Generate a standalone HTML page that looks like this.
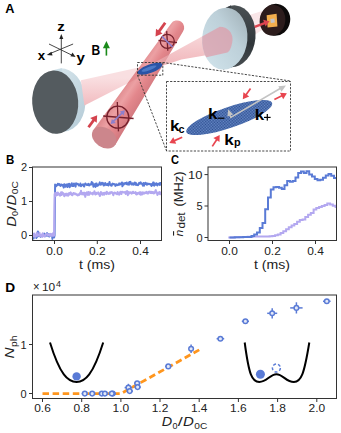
<!DOCTYPE html>
<html><head><meta charset="utf-8"><style>
html,body{margin:0;padding:0;background:#fff;width:341px;height:433px;overflow:hidden}
svg{display:block}
text{font-family:"Liberation Sans", sans-serif}
</style></head><body>
<svg width="341" height="433" viewBox="0 0 341 433">
<defs>
 <linearGradient id="tubeG" gradientUnits="userSpaceOnUse" x1="0" y1="-12" x2="0" y2="12">
  <stop offset="0" stop-color="#e08c90"/><stop offset="0.3" stop-color="#eca0a3"/><stop offset="0.6" stop-color="#e3878c"/><stop offset="1" stop-color="#d47a80"/>
 </linearGradient>
 <linearGradient id="beamL" gradientUnits="userSpaceOnUse" x1="0" y1="78" x2="0" y2="105">
  <stop offset="0" stop-color="#f9dfe1"/><stop offset="1" stop-color="#f2bcc0"/>
 </linearGradient>
 <linearGradient id="beamR" gradientUnits="userSpaceOnUse" x1="0" y1="28" x2="0" y2="60">
  <stop offset="0" stop-color="#f9dfe1"/><stop offset="1" stop-color="#f2bcc0"/>
 </linearGradient>
 <linearGradient id="mirL" x1="0" y1="0" x2="1" y2="1">
  <stop offset="0" stop-color="#e0ecf1"/><stop offset="1" stop-color="#b3cad6"/>
 </linearGradient>
 <linearGradient id="mirR" x1="0.2" y1="0.9" x2="0.9" y2="0.1">
  <stop offset="0" stop-color="#cde0e8"/><stop offset="0.6" stop-color="#bdd0d9"/><stop offset="1" stop-color="#a5b5bc"/>
 </linearGradient>
 <linearGradient id="rimR" x1="0" y1="0" x2="0" y2="1">
  <stop offset="0" stop-color="#4a5154"/><stop offset="0.6" stop-color="#30363a"/><stop offset="1" stop-color="#484e52"/>
 </linearGradient>
 <pattern id="hatch" width="2" height="2" patternUnits="userSpaceOnUse">
  <rect width="2" height="2" fill="#6c8ecb"/><rect width="1" height="1" fill="#2b4c8e"/><rect x="1" y="1" width="1" height="1" fill="#2b4c8e"/>
 </pattern>
</defs><ellipse cx="62" cy="100" rx="23.5" ry="31.7" fill="url(#mirL)" transform="rotate(-4 62 100)"/><polygon points="55.2,70.5 62,68.3 62,131.7 55.2,133.9" fill="#c9dce5"/><ellipse cx="55.2" cy="102.2" rx="23" ry="31.7" fill="#545b5f" transform="rotate(-4 55.2 102.2)"/><polygon points="80.9,80.3 150,65 150,72 84.4,105.4" fill="url(#beamL)"/><polygon points="240,18 262,11 262,30 244,42" fill="#f9e6e8"/><ellipse cx="233.2" cy="36.2" rx="22.3" ry="30.9" fill="url(#rimR)" transform="rotate(5 233.2 36.2)"/><polygon points="226.5,7.7 231,5.2 234,66.8 223,69.6" fill="#3a4044"/><polygon points="150,65 219.8,26.7 227.4,51.6 206,55.2 181.4,59.6 150,70" fill="url(#beamR)"/><ellipse cx="224.8" cy="38.6" rx="22.6" ry="31" fill="url(#mirR)" transform="rotate(5 224.8 38.6)"/><clipPath id="mirClip"><ellipse cx="224.8" cy="38.6" rx="22.6" ry="31" transform="rotate(5 224.8 38.6)"/></clipPath><path clip-path="url(#mirClip)" d="M150,65 L219.8,26.7 C228,27 233,33 232.5,40 C232,47 229,52 227.4,52.4 L150,70.5 Z" fill="#e09aa6" opacity="0.7"/><ellipse cx="275.6" cy="19.8" rx="14.6" ry="16" fill="#0d0a0a" transform="rotate(8 275.6 19.8)"/><ellipse cx="272.5" cy="20.2" rx="12.8" ry="15.4" fill="#2c1c1c" transform="rotate(8 272.5 20.2)"/><polygon points="266.6,15.2 276.6,13.8 277.4,26.6 267.6,27.4" fill="#f2ae4d"/><polygon points="270.4,18.9 274.4,18.5 274.8,22.6 270.9,23" fill="#c6c4c6"/><line x1="254.7" y1="26.8" x2="265.3" y2="22.8" stroke="#dd4550" stroke-width="2.4"/><polygon points="269.5,21.2 265.6,26.5 263.1,19.8" fill="#dd4550"/><g transform="translate(104.2,137.6) rotate(-56.50)"><path d="M0,-13.2 L131.9,-7.2 A7.2,7.2 0 0 1 131.9,7.2 L0,13.2 Z" fill="url(#tubeG)"/><ellipse cx="0" cy="0" rx="9.8" ry="13.2" fill="#cc868c"/></g><clipPath id="tubeClip"><path transform="translate(104.2,137.6) rotate(-56.50)" d="M0,-13.2 L131.9,-7.2 A7.2,7.2 0 0 1 131.9,7.2 L0,13.2 Z"/></clipPath><g clip-path="url(#tubeClip)"><polygon points="80.9,80.3 150,65 150,72 84.4,105.4" fill="#d4606a" opacity="0.22"/><polygon points="150,65 219.8,26.7 227.4,51.6 206,55.2 181.4,59.6 150,70" fill="#f6d6d9" opacity="0.35"/></g><g stroke="#74202c" stroke-width="1.3" fill="none"><circle cx="117.8" cy="117.2" r="11"/><line x1="103.2" y1="116" x2="133.6" y2="118.5"/><line x1="117.3" y1="102" x2="118.5" y2="131.4"/><circle cx="167.3" cy="41.3" r="7"/><line x1="158.5" y1="40.3" x2="177" y2="42.6"/><line x1="166.7" y1="31.1" x2="167.8" y2="50.8"/></g><line x1="162" y1="36.4" x2="172.6" y2="47" stroke="#8e7fcc" stroke-width="1.6"/><line x1="117.8" y1="117.2" x2="122.5" y2="112.7" stroke="#8e7fcc" stroke-width="1.6"/><polygon points="125.0,110.3 123.7,115.4 119.8,111.4" fill="#8e7fcc"/><line x1="117.8" y1="117.2" x2="113.1" y2="121.7" stroke="#8e7fcc" stroke-width="1.6"/><polygon points="110.6,124.1 111.9,119.0 115.8,123.0" fill="#8e7fcc"/><line x1="88.5" y1="127.3" x2="94.0" y2="119.7" stroke="#d4434e" stroke-width="2.8"/><polygon points="97.2,115.2 96.7,122.8 90.2,118.1" fill="#d4434e"/><line x1="165.2" y1="22.7" x2="158.7" y2="31.9" stroke="#d4434e" stroke-width="2.8"/><polygon points="155.5,36.4 156.0,28.8 162.5,33.4" fill="#d4434e"/><ellipse cx="149.9" cy="68.8" rx="13.2" ry="4.2" fill="#2a54a6" transform="rotate(-20 149.9 68.8)"/><ellipse cx="149" cy="68.6" rx="8" ry="1.8" fill="#5d8ad6" opacity="0.7" transform="rotate(-20 149 68.6)"/><g fill="none" stroke="#333" stroke-width="0.9" stroke-dasharray="2.2,1.4"><rect x="137.5" y="62.5" width="25.3" height="12.7"/><line x1="162.8" y1="62.5" x2="290.5" y2="81"/><line x1="137.5" y1="75.2" x2="166.5" y2="150.8"/><rect x="166.5" y="81.5" width="124" height="69.5"/></g><ellipse cx="229.2" cy="117.5" rx="45.3" ry="10.4" fill="url(#hatch)" transform="rotate(-18.8 229.2 117.5)"/><polyline points="229.2,113 230.8,117.3 281,88" fill="none" stroke="#c4c4c4" stroke-width="1.5"/><line x1="230.8" y1="117.3" x2="280.8" y2="88.5" stroke="#c4c4c4" stroke-width="0.1"/><polygon points="286.0,85.5 281.5,91.8 278.3,86.2" fill="#c4c4c4"/><line x1="230.8" y1="117.3" x2="229.9" y2="114.5" stroke="#c4c4c4" stroke-width="0.1"/><polygon points="228.2,109.3 233.1,114.6 227.4,116.4" fill="#c4c4c4"/><line x1="182.2" y1="137.2" x2="173.9" y2="140.9" stroke="#e8454f" stroke-width="1.7"/><polygon points="169.3,143.0 173.3,137.3 176.2,143.8" fill="#e8454f"/><line x1="212.3" y1="146.4" x2="217.0" y2="139.2" stroke="#e8454f" stroke-width="1.7"/><polygon points="219.7,135.0 219.5,142.0 213.4,138.1" fill="#e8454f"/><line x1="250.5" y1="88.6" x2="245.7" y2="95.2" stroke="#e8454f" stroke-width="1.7"/><polygon points="242.8,99.2 243.4,92.2 249.2,96.5" fill="#e8454f"/><line x1="274.4" y1="99.6" x2="282.4" y2="95.6" stroke="#e8454f" stroke-width="1.7"/><polygon points="286.9,93.3 283.2,99.2 279.9,92.8" fill="#e8454f"/><g font-weight="bold" fill="#000"><text x="170" y="131.3" font-size="14.5" textLength="9.5" lengthAdjust="spacingAndGlyphs">k</text><text x="178.6" y="132.6" font-size="10" textLength="6" lengthAdjust="spacingAndGlyphs">c</text><text x="207.9" y="119.3" font-size="14.5" textLength="9.5" lengthAdjust="spacingAndGlyphs">k</text><rect x="217.6" y="117.6" width="6.8" height="1.2" fill="#000"/><text x="254.8" y="120" font-size="14.5" textLength="9.5" lengthAdjust="spacingAndGlyphs">k</text><rect x="264" y="116.8" width="6.6" height="1.2"/><rect x="266.7" y="114" width="1.2" height="6.6"/><text x="224.3" y="145.1" font-size="14.5" textLength="9.5" lengthAdjust="spacingAndGlyphs">k</text><text x="234" y="145.7" font-size="10" textLength="6.6" lengthAdjust="spacingAndGlyphs">p</text></g><g stroke="#333" stroke-width="0.9"><line x1="61.3" y1="63.4" x2="61.3" y2="37"/><line x1="73.1" y1="44" x2="49" y2="54"/><line x1="49" y1="44" x2="73" y2="55.7"/></g><g fill="#222"><polygon points="61.3,34 59.3,39 63.3,39"/><polygon points="46.7,55.1 51.5,51.7 52.5,55.6"/><polygon points="75.6,57 70.4,56.2 72.5,52.5"/></g><g font-weight="bold" fill="#000"><text x="57.2" y="30.8" font-size="13" textLength="7.5" lengthAdjust="spacingAndGlyphs">z</text><text x="37.8" y="59.9" font-size="13" textLength="7.4" lengthAdjust="spacingAndGlyphs">x</text><text x="76.4" y="62" font-size="13" textLength="8.4" lengthAdjust="spacingAndGlyphs">y</text><text x="91.5" y="55.2" font-size="14" textLength="8.7" lengthAdjust="spacingAndGlyphs">B</text></g><line x1="106.4" y1="55.6" x2="106.4" y2="46" stroke="#1a8a1a" stroke-width="1.6"/><polygon points="106.4,41.1 102.9,48.2 109.9,48.2" fill="#1a8a1a"/><text x="5.2" y="13.2" font-size="12.5" font-weight="bold" fill="#000" textLength="9.2" lengthAdjust="spacingAndGlyphs">A</text>
<g id="B">
 <text x="5.9" y="164.1" font-size="12.3" font-weight="bold" fill="#000" textLength="8.3" lengthAdjust="spacingAndGlyphs">B</text>
 <clipPath id="clipB"><rect x="32.5" y="150" width="129" height="90"/></clipPath>
 <g clip-path="url(#clipB)" fill="none" stroke-width="2" stroke-linejoin="round">
  <path d="M33.0,233.0 L33.6,238.6 L34.1,235.0 L34.7,236.2 L35.2,236.1 L35.7,235.8 L36.3,238.0 L36.8,235.8 L37.4,236.6 L37.9,231.4 L38.4,235.2 L39.0,235.9 L39.5,235.8 L40.1,236.3 L40.6,236.8 L41.1,236.0 L41.7,234.9 L42.2,235.8 L42.7,234.3 L43.3,235.7 L43.8,235.5 L44.4,233.6 L44.9,234.8 L45.4,236.1 L46.0,235.7 L46.5,234.8 L47.1,233.1 L47.6,235.8 L48.1,235.8 L48.7,234.3 L49.2,236.6 L49.7,235.9 L50.3,234.4 L50.8,234.8 L51.4,235.4 L51.9,234.7 L52.4,239.0 L53.0,234.2 L53.5,236.7 L54.1,237.5 L54.6,235.2 L55.1,184.5 L55.7,185.6 L56.2,186.3 L56.7,185.1 L57.3,185.2 L57.8,183.7 L58.4,184.4 L58.9,184.9 L59.4,184.0 L60.0,185.3 L60.5,186.0 L61.1,184.5 L61.6,184.5 L62.1,185.3 L62.7,185.9 L63.2,184.8 L63.7,187.6 L64.3,184.3 L64.8,184.5 L65.4,186.7 L65.9,185.0 L66.4,186.0 L67.0,184.2 L67.5,187.1 L68.1,185.9 L68.6,184.3 L69.1,183.8 L69.7,187.2 L70.2,185.5 L70.7,184.6 L71.3,185.6 L71.8,183.3 L72.4,186.1 L72.9,184.6 L73.4,186.0 L74.0,183.5 L74.5,184.9 L75.1,185.3 L75.6,186.6 L76.1,183.2 L76.7,184.1 L77.2,184.1 L77.7,183.7 L78.3,184.5 L78.8,185.5 L79.4,185.6 L79.9,185.6 L80.4,183.4 L81.0,186.3 L81.5,185.4 L82.1,185.1 L82.6,184.6 L83.1,184.2 L83.7,186.0 L84.2,186.5 L84.7,184.8 L85.3,183.5 L85.8,184.0 L86.4,184.5 L86.9,185.0 L87.4,184.4 L88.0,185.0 L88.5,183.9 L89.1,185.5 L89.6,184.5 L90.1,184.8 L90.7,184.1 L91.2,184.4 L91.7,182.0 L92.3,183.1 L92.8,183.1 L93.4,186.7 L93.9,185.0 L94.4,185.2 L95.0,184.1 L95.5,186.9 L96.1,183.4 L96.6,183.5 L97.1,185.9 L97.7,185.6 L98.2,185.4 L98.7,184.5 L99.3,183.9 L99.8,182.4 L100.4,184.7 L100.9,183.7 L101.4,184.4 L102.0,182.7 L102.5,183.7 L103.1,183.1 L103.6,185.6 L104.1,184.7 L104.7,185.3 L105.2,182.9 L105.7,183.8 L106.3,184.8 L106.8,184.9 L107.4,183.9 L107.9,185.1 L108.4,185.4 L109.0,183.9 L109.5,181.9 L110.1,184.6 L110.6,184.9 L111.1,185.6 L111.7,185.7 L112.2,183.8 L112.7,183.5 L113.3,184.3 L113.8,184.0 L114.4,184.2 L114.9,184.2 L115.4,185.9 L116.0,184.8 L116.5,184.2 L117.1,185.1 L117.6,184.8 L118.1,185.1 L118.7,184.6 L119.2,183.4 L119.7,184.7 L120.3,184.4 L120.8,183.4 L121.4,183.6 L121.9,182.5 L122.4,186.3 L123.0,183.3 L123.5,184.7 L124.1,184.1 L124.6,183.3 L125.1,183.1 L125.7,183.1 L126.2,184.0 L126.7,182.5 L127.3,184.4 L127.8,184.3 L128.4,183.3 L128.9,184.7 L129.4,181.9 L130.0,183.1 L130.5,181.9 L131.1,184.1 L131.6,184.5 L132.1,183.9 L132.7,183.3 L133.2,184.7 L133.7,183.7 L134.3,184.1 L134.8,182.4 L135.4,184.7 L135.9,183.0 L136.4,184.7 L137.0,185.0 L137.5,184.7 L138.1,185.2 L138.6,183.8 L139.1,182.9 L139.7,183.8 L140.2,183.3 L140.7,182.3 L141.3,183.7 L141.8,183.7 L142.4,184.2 L142.9,185.6 L143.4,183.1 L144.0,185.7 L144.5,183.2 L145.1,183.9 L145.6,182.7 L146.1,183.9 L146.7,184.7 L147.2,183.5 L147.7,184.4 L148.3,184.0 L148.8,183.8 L149.4,184.0 L149.9,184.0 L150.4,184.7 L151.0,184.0 L151.5,186.0 L152.1,183.9 L152.6,185.0 L153.1,182.6 L153.7,182.5 L154.2,185.7 L154.7,183.6 L155.3,183.9 L155.8,184.8 L156.4,183.2 L156.9,184.2 L157.4,185.5 L158.0,184.0 L158.5,183.8 L159.1,183.6 L159.6,184.9 L160.1,183.0 L160.7,182.9 L161.2,184.8 L161.8,184.3" stroke="#5a7bd6"/>
  <path d="M33.0,235.6 L33.6,236.2 L34.1,233.4 L34.7,235.2 L35.2,236.7 L35.7,236.5 L36.3,235.6 L36.8,232.7 L37.4,235.7 L37.9,235.3 L38.4,234.9 L39.0,235.5 L39.5,232.7 L40.1,236.2 L40.6,234.6 L41.1,235.3 L41.7,234.7 L42.2,236.9 L42.7,233.3 L43.3,235.6 L43.8,235.5 L44.4,236.6 L44.9,236.4 L45.4,234.8 L46.0,234.3 L46.5,234.6 L47.1,234.0 L47.6,234.6 L48.1,235.5 L48.7,234.5 L49.2,234.8 L49.7,235.6 L50.3,234.6 L50.8,233.9 L51.4,235.2 L51.9,235.9 L52.4,234.6 L53.0,233.2 L53.5,235.8 L54.1,235.6 L54.6,194.3 L55.1,192.9 L55.7,196.0 L56.2,193.8 L56.7,192.9 L57.3,195.0 L57.8,192.6 L58.4,193.6 L58.9,194.7 L59.4,193.9 L60.0,195.7 L60.5,194.7 L61.1,192.2 L61.6,195.0 L62.1,192.2 L62.7,194.2 L63.2,193.1 L63.7,194.0 L64.3,196.3 L64.8,194.6 L65.4,193.8 L65.9,195.2 L66.4,195.4 L67.0,193.6 L67.5,194.7 L68.1,195.7 L68.6,194.7 L69.1,193.1 L69.7,194.5 L70.2,193.0 L70.7,192.4 L71.3,193.9 L71.8,195.1 L72.4,195.3 L72.9,194.0 L73.4,193.0 L74.0,193.6 L74.5,193.3 L75.1,194.3 L75.6,193.6 L76.1,194.4 L76.7,194.2 L77.2,195.2 L77.7,195.5 L78.3,194.3 L78.8,195.0 L79.4,194.8 L79.9,193.1 L80.4,193.9 L81.0,190.8 L81.5,192.9 L82.1,194.4 L82.6,193.0 L83.1,193.4 L83.7,194.5 L84.2,192.6 L84.7,194.5 L85.3,196.9 L85.8,192.9 L86.4,194.4 L86.9,192.2 L87.4,194.4 L88.0,194.9 L88.5,192.1 L89.1,194.8 L89.6,193.5 L90.1,192.2 L90.7,193.6 L91.2,193.7 L91.7,193.6 L92.3,192.8 L92.8,194.5 L93.4,193.0 L93.9,193.0 L94.4,191.2 L95.0,194.0 L95.5,194.5 L96.1,192.8 L96.6,194.0 L97.1,193.3 L97.7,193.4 L98.2,192.4 L98.7,194.2 L99.3,193.6 L99.8,196.1 L100.4,194.4 L100.9,192.0 L101.4,194.2 L102.0,194.2 L102.5,194.7 L103.1,192.9 L103.6,193.3 L104.1,194.7 L104.7,192.8 L105.2,193.2 L105.7,192.7 L106.3,194.1 L106.8,191.7 L107.4,193.0 L107.9,193.5 L108.4,193.9 L109.0,193.7 L109.5,192.5 L110.1,193.7 L110.6,192.3 L111.1,192.8 L111.7,192.0 L112.2,192.5 L112.7,193.4 L113.3,195.3 L113.8,193.0 L114.4,192.5 L114.9,193.2 L115.4,192.8 L116.0,193.8 L116.5,193.7 L117.1,194.3 L117.6,191.9 L118.1,193.1 L118.7,193.8 L119.2,194.6 L119.7,193.4 L120.3,191.8 L120.8,192.8 L121.4,194.0 L121.9,191.8 L122.4,191.8 L123.0,192.2 L123.5,192.4 L124.1,192.0 L124.6,192.6 L125.1,192.4 L125.7,194.0 L126.2,191.6 L126.7,192.9 L127.3,191.1 L127.8,195.2 L128.4,192.4 L128.9,192.1 L129.4,193.5 L130.0,192.7 L130.5,192.3 L131.1,192.5 L131.6,193.6 L132.1,193.2 L132.7,192.0 L133.2,191.8 L133.7,193.0 L134.3,193.0 L134.8,192.8 L135.4,192.0 L135.9,194.1 L136.4,194.4 L137.0,192.9 L137.5,194.1 L138.1,193.6 L138.6,192.9 L139.1,192.5 L139.7,194.1 L140.2,192.1 L140.7,194.8 L141.3,192.4 L141.8,194.6 L142.4,194.2 L142.9,192.3 L143.4,193.3 L144.0,193.7 L144.5,193.4 L145.1,192.4 L145.6,192.9 L146.1,192.9 L146.7,191.8 L147.2,193.6 L147.7,193.3 L148.3,193.4 L148.8,191.7 L149.4,191.8 L149.9,191.5 L150.4,192.9 L151.0,193.0 L151.5,191.9 L152.1,193.2 L152.6,191.9 L153.1,192.0 L153.7,193.5 L154.2,192.9 L154.7,192.9 L155.3,191.0 L155.8,190.1 L156.4,192.8 L156.9,192.7 L157.4,195.0 L158.0,192.5 L158.5,192.7 L159.1,193.8 L159.6,191.9 L160.1,194.3 L160.7,192.9 L161.2,192.5 L161.8,193.9" stroke="#b3a8f0"/>
 </g>
 <rect x="32.5" y="167" width="129" height="73.5" fill="none" stroke="#333" stroke-width="1"/>
 <g stroke="#333" stroke-width="1">
  <line x1="29" y1="235.5" x2="32.5" y2="235.5"/>
  <line x1="29" y1="201.5" x2="32.5" y2="201.5"/>
  <line x1="29" y1="167.5" x2="32.5" y2="167.5"/>
  <line x1="54.5" y1="240.5" x2="54.5" y2="244"/>
  <line x1="97.3" y1="240.5" x2="97.3" y2="244"/>
  <line x1="140.5" y1="240.5" x2="140.5" y2="244"/>
 </g>
 <g font-size="11" fill="#222" text-anchor="end">
  <text x="27" y="239">0</text>
  <text x="27" y="205">1</text>
  <text x="27" y="171">2</text>
 </g>
 <g font-size="11" fill="#222" text-anchor="middle">
  <text x="54.5" y="255.3" textLength="16.6" lengthAdjust="spacingAndGlyphs">0.0</text>
  <text x="97.3" y="255.3" textLength="16.6" lengthAdjust="spacingAndGlyphs">0.2</text>
  <text x="140.5" y="255.3" textLength="16.6" lengthAdjust="spacingAndGlyphs">0.4</text>
  <text x="97" y="269" font-size="12" textLength="36" lengthAdjust="spacingAndGlyphs">t (ms)</text>
 </g>
 <g transform="translate(15.6,226.8) rotate(-90)"><g fill="#222"><text x="0" y="0" font-size="12.5" font-style="italic" textLength="10.4" lengthAdjust="spacingAndGlyphs">D</text><text x="10.8" y="2.2" font-size="9" textLength="5" lengthAdjust="spacingAndGlyphs">0</text><text x="16" y="0" font-size="12.5" textLength="5" lengthAdjust="spacingAndGlyphs">/</text><text x="21.2" y="0" font-size="12.5" font-style="italic" textLength="10.8" lengthAdjust="spacingAndGlyphs">D</text><text x="32.6" y="2.2" font-size="9" textLength="13" lengthAdjust="spacingAndGlyphs">0C</text></g></g>
</g>

<g id="C">
 <text x="171.1" y="164" font-size="12.3" font-weight="bold" fill="#000" textLength="8" lengthAdjust="spacingAndGlyphs">C</text>
 <clipPath id="clipC"><rect x="208" y="150" width="128.5" height="90"/></clipPath>
 <g clip-path="url(#clipC)" fill="none" stroke-width="2" stroke-linejoin="miter">
  <path d="M228.3,237.5 L231.1,237.5 L231.1,237.4 L233.8,237.4 L233.8,237.3 L236.6,237.3 L236.6,237.2 L239.3,237.2 L239.3,237.1 L242.1,237.1 L242.1,237.0 L244.8,237.0 L244.8,236.9 L247.6,236.9 L247.6,236.8 L250.3,236.8 L250.3,236.7 L253.1,236.7 L253.1,236.6 L255.8,236.6 L255.8,236.6 L258.6,236.6 L258.6,236.6 L261.3,236.6 L261.3,236.6 L264.1,236.6 L264.1,236.6 L266.8,236.6 L266.8,236.4 L269.6,236.4 L269.6,236.2 L272.3,236.2 L272.3,236.0 L275.1,236.0 L275.1,235.3 L277.8,235.3 L277.8,234.5 L280.6,234.5 L280.6,233.0 L283.3,233.0 L283.3,231.2 L286.1,231.2 L286.1,229.2 L288.8,229.2 L288.8,227.2 L291.6,227.2 L291.6,225.6 L294.3,225.6 L294.3,224.0 L297.1,224.0 L297.1,221.7 L299.8,221.7 L299.8,219.9 L302.6,219.9 L302.6,219.4 L305.3,219.4 L305.3,217.0 L308.1,217.0 L308.1,214.8 L310.8,214.8 L310.8,212.9 L313.6,212.9 L313.6,209.4 L316.3,209.4 L316.3,208.1 L319.1,208.1 L319.1,207.1 L321.8,207.1 L321.8,206.1 L324.6,206.1 L324.6,204.9 L327.3,204.9 L327.3,203.6 L330.1,203.6 L330.1,204.5 L332.8,204.5 L332.8,205.8 L335.6,205.8 L335.6,207.0 L338.3,207.0" stroke="#b3a8f0"/>
  <path d="M229.5,237.5 L232.2,237.5 L232.2,237.4 L235.0,237.4 L235.0,237.3 L237.8,237.3 L237.8,237.3 L240.5,237.3 L240.5,237.2 L243.2,237.2 L243.2,237.1 L246.0,237.1 L246.0,237.1 L248.8,237.1 L248.8,237.0 L251.5,237.0 L251.5,235.9 L254.2,235.9 L254.2,234.6 L257.0,234.6 L257.0,232.6 L259.8,232.6 L259.8,228.1 L262.5,228.1 L262.5,223.1 L265.2,223.1 L265.2,209.2 L268.0,209.2 L268.0,197.5 L270.8,197.5 L270.8,189.4 L273.5,189.4 L273.5,187.2 L276.2,187.2 L276.2,186.9 L279.0,186.9 L279.0,187.7 L281.8,187.7 L281.8,188.9 L284.5,188.9 L284.5,185.2 L287.2,185.2 L287.2,181.0 L290.0,181.0 L290.0,181.7 L292.8,181.7 L292.8,181.0 L295.5,181.0 L295.5,177.4 L298.2,177.4 L298.2,172.9 L301.0,172.9 L301.0,171.4 L303.8,171.4 L303.8,172.9 L306.5,172.9 L306.5,171.3 L309.2,171.3 L309.2,174.4 L312.0,174.4 L312.0,176.6 L314.8,176.6 L314.8,179.0 L317.5,179.0 L317.5,180.3 L320.2,180.3 L320.2,179.8 L323.0,179.8 L323.0,177.7 L325.8,177.7 L325.8,175.5 L328.5,175.5 L328.5,174.0 L331.2,174.0 L331.2,175.7 L334.0,175.7 L334.0,178.0 L336.8,178.0 L336.8,178.5 L339.5,178.5" stroke="#5a7bd6"/>
 </g>
 <rect x="208" y="167" width="128.5" height="73.5" fill="none" stroke="#333" stroke-width="1"/>
 <g stroke="#333" stroke-width="1">
  <line x1="204.5" y1="237.5" x2="208" y2="237.5"/>
  <line x1="204.5" y1="206" x2="208" y2="206"/>
  <line x1="204.5" y1="174.6" x2="208" y2="174.6"/>
  <line x1="229.5" y1="240.5" x2="229.5" y2="244"/>
  <line x1="272.5" y1="240.5" x2="272.5" y2="244"/>
  <line x1="315.5" y1="240.5" x2="315.5" y2="244"/>
 </g>
 <g font-size="11" fill="#222" text-anchor="end">
  <text x="202.5" y="241.5">0</text>
  <text x="202.5" y="210.2">5</text>
  <text x="202.5" y="178.9" textLength="14.4" lengthAdjust="spacingAndGlyphs">10</text>
 </g>
 <g font-size="11" fill="#222" text-anchor="middle">
  <text x="229.5" y="255.3" textLength="16.6" lengthAdjust="spacingAndGlyphs">0.0</text>
  <text x="272.5" y="255.3" textLength="16.6" lengthAdjust="spacingAndGlyphs">0.2</text>
  <text x="315.5" y="255.3" textLength="16.6" lengthAdjust="spacingAndGlyphs">0.4</text>
  <text x="272" y="269" font-size="12" textLength="36" lengthAdjust="spacingAndGlyphs">t (ms)</text>
 </g>
 <g fill="#222">
 <text transform="translate(182.9,236.4) rotate(-90)" font-size="11.5" font-style="italic" textLength="6.8" lengthAdjust="spacingAndGlyphs">n</text>
 <rect x="173" y="231.2" width="1.1" height="4.4" fill="#222"/>
 <text transform="translate(184.6,228.6) rotate(-90)" font-size="11" textLength="16.2" lengthAdjust="spacingAndGlyphs">det</text>
 <text transform="translate(183.2,206.6) rotate(-90)" font-size="13" textLength="35.2" lengthAdjust="spacingAndGlyphs">(MHz)</text>
</g>
</g>

<g id="D">
 <text x="5.3" y="291.5" font-size="12.5" font-weight="bold" fill="#000" textLength="9.9" lengthAdjust="spacingAndGlyphs">D</text>
 <text x="33" y="291" font-size="12" fill="#222" textLength="6.6" lengthAdjust="spacingAndGlyphs">×</text><text x="42" y="291.4" font-size="11.5" fill="#222" textLength="13.2" lengthAdjust="spacingAndGlyphs">10</text><text x="56" y="286.6" font-size="8.5" fill="#222" textLength="5" lengthAdjust="spacingAndGlyphs">4</text>
 <path d="M42.5,393.6 L121,393.6 L199.4,349.8" fill="none" stroke="#ff961e" stroke-width="2.8" stroke-dasharray="6.5,3.6"/>
 <g fill="none" stroke="#5a7bd6" stroke-width="1.5"><line x1="81.6" y1="393.6" x2="88.0" y2="393.6"/><line x1="89.0" y1="393.6" x2="95.4" y2="393.6"/><line x1="98.6" y1="393.6" x2="105.0" y2="393.6"/><line x1="101.7" y1="393.6" x2="108.1" y2="393.6"/><line x1="109.5" y1="393.6" x2="115.9" y2="393.6"/><line x1="108.6" y1="393.5" x2="115.0" y2="393.5"/><line x1="128.4" y1="383.8" x2="128.4" y2="391.4"/><line x1="124.6" y1="387.6" x2="132.2" y2="387.6"/><line x1="126.5" y1="391.1" x2="132.9" y2="391.1"/><line x1="134.0" y1="383.2" x2="140.4" y2="383.2"/><line x1="134.4" y1="387.1" x2="140.8" y2="387.1"/><line x1="165.1" y1="366.4" x2="171.5" y2="366.4"/><line x1="191.1" y1="344.5" x2="191.1" y2="353.1"/><line x1="216.6" y1="338.7" x2="224.2" y2="338.7"/><line x1="241.8" y1="321.3" x2="249.0" y2="321.3"/><line x1="272.2" y1="308.2" x2="272.2" y2="318.4"/><line x1="267.2" y1="313.3" x2="277.2" y2="313.3"/><line x1="296.4" y1="302.3" x2="296.4" y2="313.5"/><line x1="290.2" y1="307.9" x2="302.6" y2="307.9"/><line x1="323.0" y1="301.3" x2="330.6" y2="301.3"/><circle cx="84.8" cy="393.6" r="2.3" fill="#e4e9f7"/><circle cx="92.2" cy="393.6" r="2.3" fill="#e4e9f7"/><circle cx="101.8" cy="393.6" r="2.3" fill="#e4e9f7"/><circle cx="104.9" cy="393.6" r="2.3" fill="#e4e9f7"/><circle cx="112.7" cy="393.6" r="2.3" fill="#e4e9f7"/><circle cx="111.8" cy="393.5" r="2.3" fill="#e4e9f7"/><circle cx="128.4" cy="387.6" r="2.3" fill="#e4e9f7"/><circle cx="129.7" cy="391.1" r="2.3" fill="#e4e9f7"/><circle cx="137.2" cy="383.2" r="2.3" fill="#e4e9f7"/><circle cx="137.6" cy="387.1" r="2.3" fill="#e4e9f7"/><circle cx="168.3" cy="366.4" r="2.3" fill="#e4e9f7"/><circle cx="191.1" cy="348.8" r="2.3" fill="#e4e9f7"/><circle cx="220.4" cy="338.7" r="2.3" fill="#e4e9f7"/><circle cx="245.4" cy="321.3" r="2.3" fill="#e4e9f7"/><circle cx="272.2" cy="313.3" r="2.3" fill="#e4e9f7"/><circle cx="296.4" cy="307.9" r="2.3" fill="#e4e9f7"/><circle cx="326.8" cy="301.3" r="2.3" fill="#e4e9f7"/></g>
 <path d="M50,342.5 C60,375 68,382 76.6,382 C85,382 93,375 103.2,342.5" fill="none" stroke="#000" stroke-width="2"/>
 <circle cx="76.6" cy="376.4" r="4.2" fill="#5a7bd6"/>
 <path d="M244.7,342.5 C249,375 252,382 259.3,382 C267,382 270,374.2 276.4,374.2 C283,374.2 286,382 293.9,382 C301,382 304,375 309.3,342.5" fill="none" stroke="#000" stroke-width="2"/>
 <circle cx="260.4" cy="374.2" r="4.5" fill="#5a7bd6"/>
 <circle cx="276.4" cy="368" r="4" fill="none" stroke="#5a7bd6" stroke-width="1.5" stroke-dasharray="3,2"/>
 <rect x="32.5" y="295" width="304" height="103.5" fill="none" stroke="#333" stroke-width="1"/>
 <g stroke="#333" stroke-width="1">
  <line x1="29" y1="393.5" x2="32.5" y2="393.5"/>
  <line x1="29" y1="344.5" x2="32.5" y2="344.5"/>
  <line x1="42.5" y1="398.5" x2="42.5" y2="402"/><line x1="81.7" y1="398.5" x2="81.7" y2="402"/><line x1="120.9" y1="398.5" x2="120.9" y2="402"/><line x1="160.0" y1="398.5" x2="160.0" y2="402"/><line x1="199.2" y1="398.5" x2="199.2" y2="402"/><line x1="238.4" y1="398.5" x2="238.4" y2="402"/><line x1="277.6" y1="398.5" x2="277.6" y2="402"/><line x1="316.8" y1="398.5" x2="316.8" y2="402"/>
 </g>
 <g font-size="11" fill="#222" text-anchor="end">
  <text x="26.5" y="397.5">0</text>
  <text x="26.5" y="348.5">1</text>
 </g>
 <g font-size="11" fill="#222" text-anchor="middle">
  <text x="42.5" y="412.1" textLength="16.6" lengthAdjust="spacingAndGlyphs">0.6</text><text x="81.7" y="412.1" textLength="16.6" lengthAdjust="spacingAndGlyphs">0.8</text><text x="120.9" y="412.1" textLength="16.6" lengthAdjust="spacingAndGlyphs">1.0</text><text x="160.0" y="412.1" textLength="16.6" lengthAdjust="spacingAndGlyphs">1.2</text><text x="199.2" y="412.1" textLength="16.6" lengthAdjust="spacingAndGlyphs">1.4</text><text x="238.4" y="412.1" textLength="16.6" lengthAdjust="spacingAndGlyphs">1.6</text><text x="277.6" y="412.1" textLength="16.6" lengthAdjust="spacingAndGlyphs">1.8</text><text x="316.8" y="412.1" textLength="16.6" lengthAdjust="spacingAndGlyphs">2.0</text>
 </g>
 <g transform="translate(161.7,426.3)"><g fill="#222"><text x="0" y="0" font-size="12.5" font-style="italic" textLength="10.4" lengthAdjust="spacingAndGlyphs">D</text><text x="10.8" y="2.2" font-size="9" textLength="5" lengthAdjust="spacingAndGlyphs">0</text><text x="16" y="0" font-size="12.5" textLength="5" lengthAdjust="spacingAndGlyphs">/</text><text x="21.2" y="0" font-size="12.5" font-style="italic" textLength="10.8" lengthAdjust="spacingAndGlyphs">D</text><text x="32.6" y="2.2" font-size="9" textLength="13" lengthAdjust="spacingAndGlyphs">0C</text></g></g>
 <g fill="#222" transform="translate(14.3,358.6) rotate(-90)"><text x="0" y="0" font-size="13" font-style="italic" textLength="11" lengthAdjust="spacingAndGlyphs">N</text><text x="11.6" y="2.3" font-size="9.5" textLength="11.5" lengthAdjust="spacingAndGlyphs">ph</text></g>
</g>

</svg></body></html>
